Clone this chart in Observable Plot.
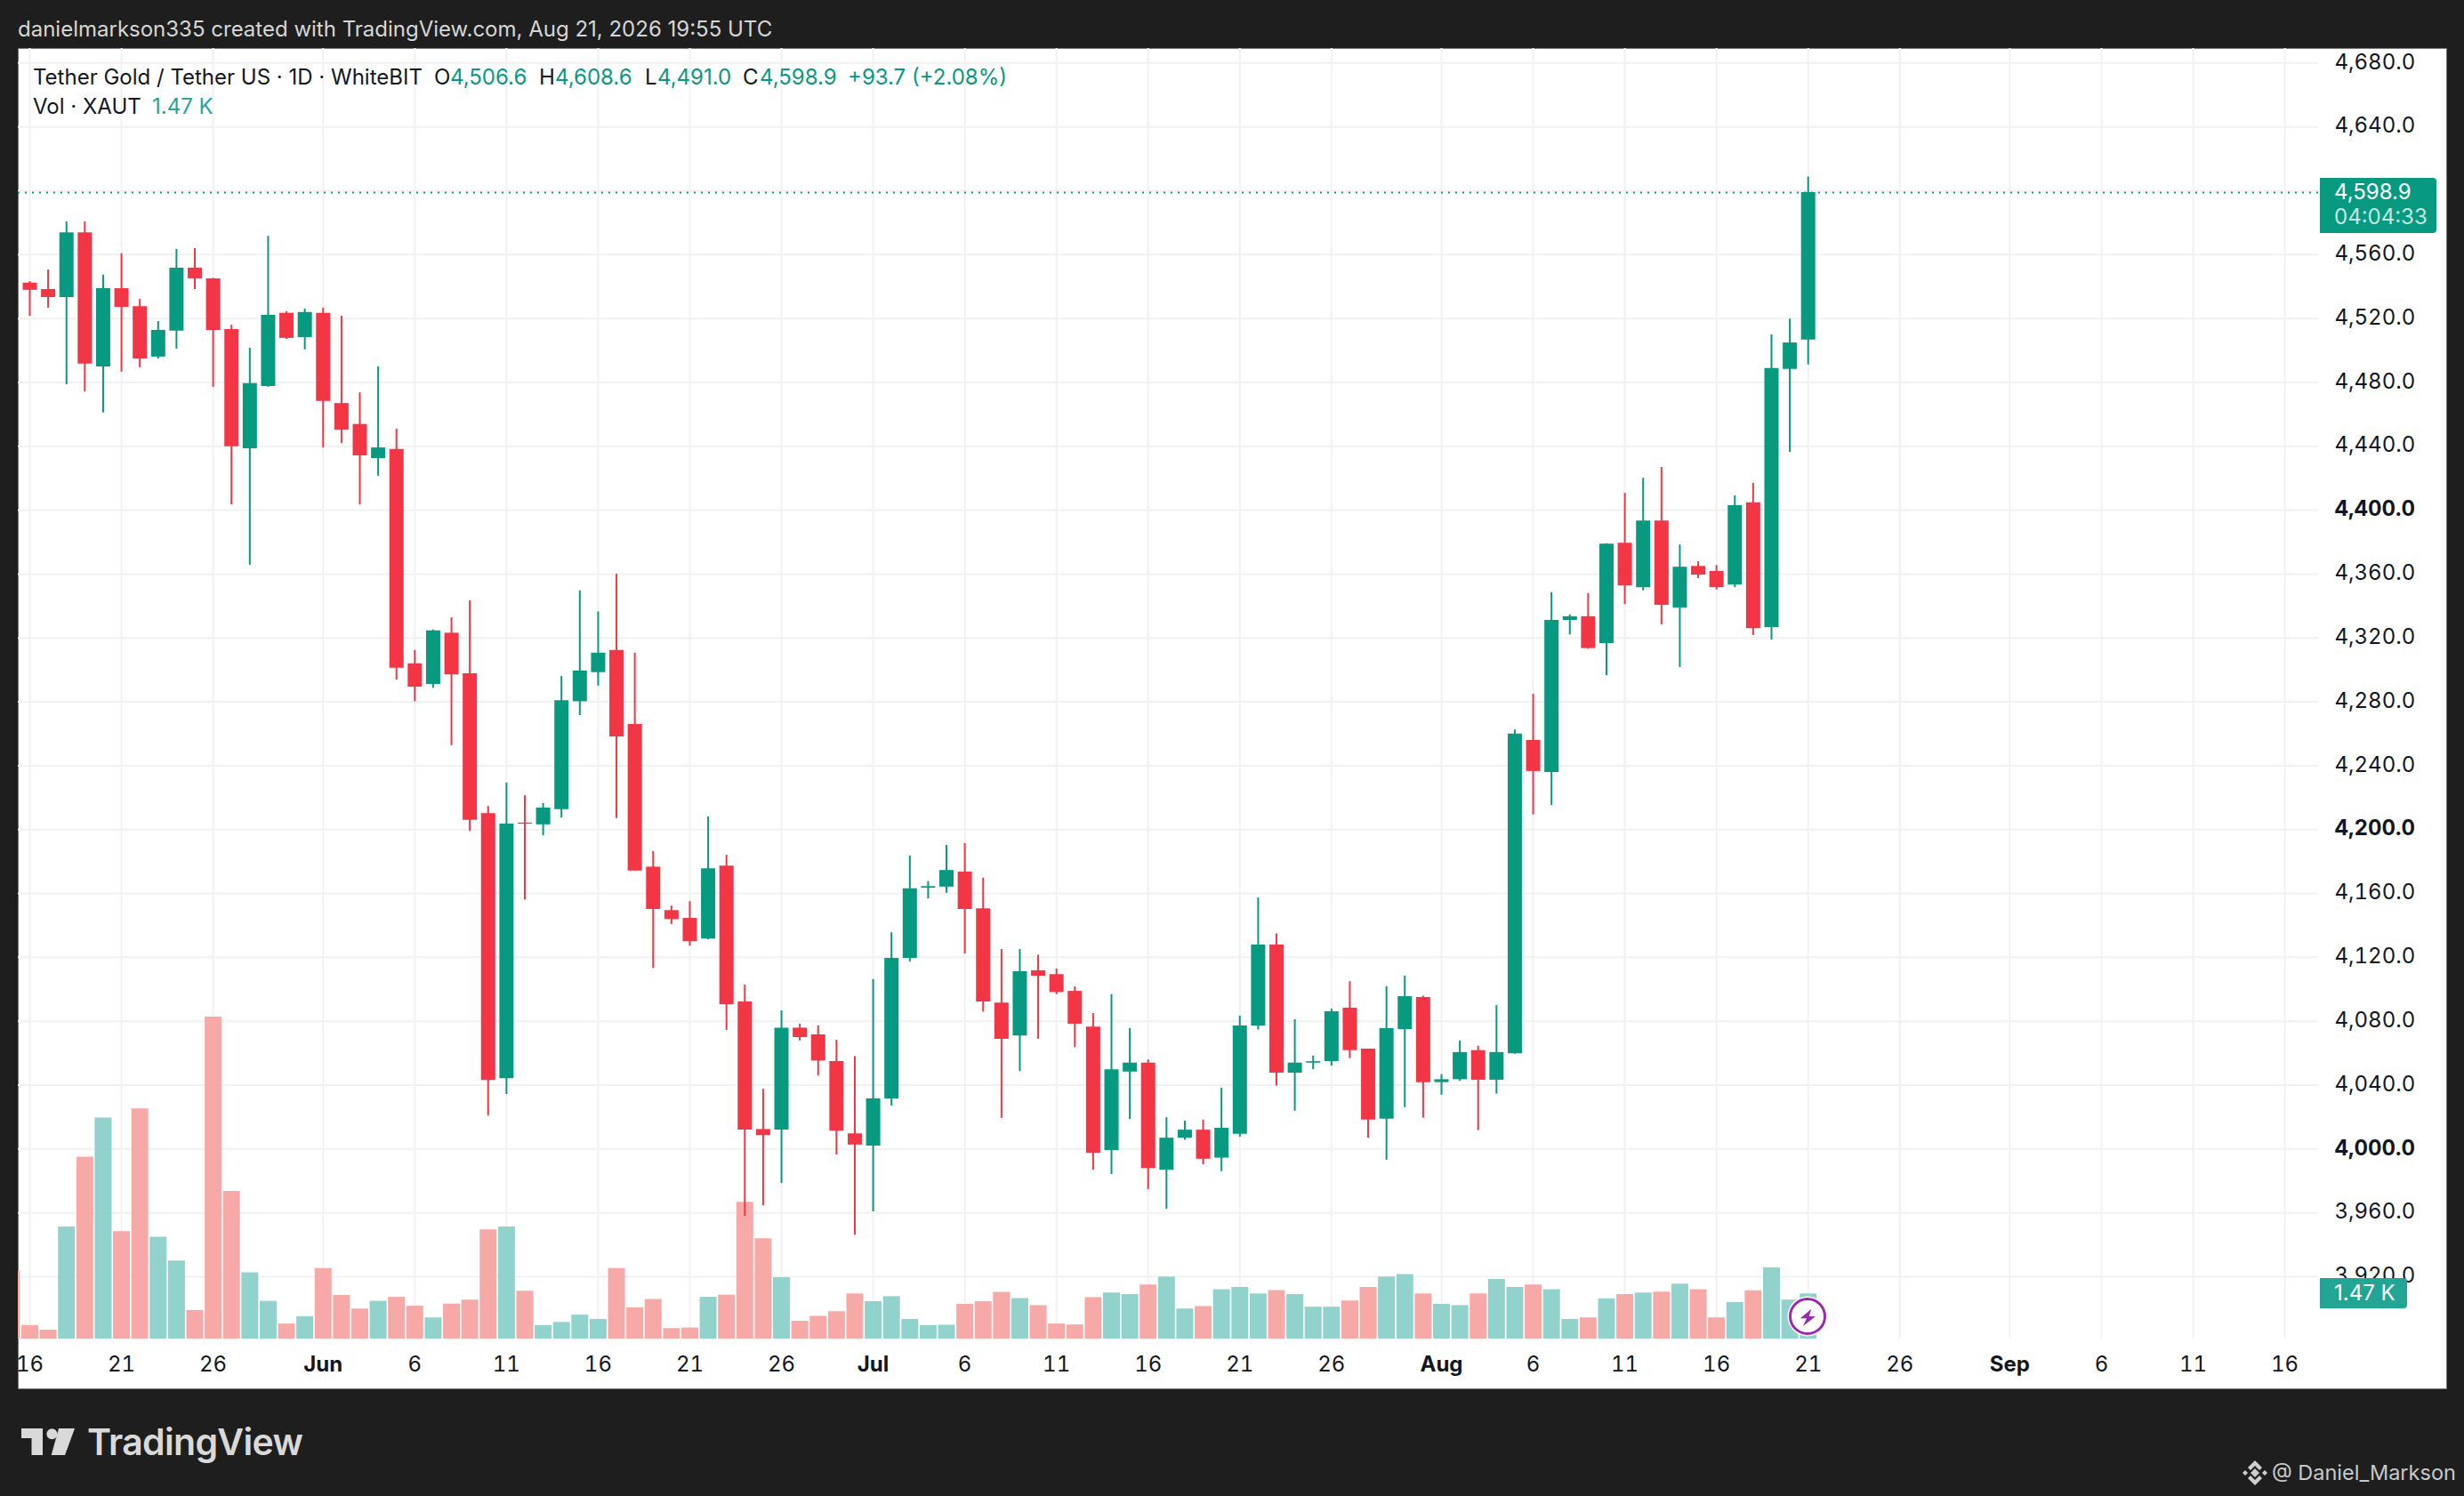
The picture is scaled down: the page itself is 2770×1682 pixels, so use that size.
<!DOCTYPE html>
<html>
<head>
<meta charset="utf-8">
<script src="https://cdn.jsdelivr.net/npm/d3@7"></script>
<script src="https://cdn.jsdelivr.net/npm/@observablehq/plot@0.6"></script>
<style>
html,body{margin:0;padding:0;background:#1e1e1e;}
#page{position:relative;width:2770px;height:1682px;background:#1e1e1e;overflow:hidden;font-family:Inter,"Liberation Sans",sans-serif;}
#pane{position:absolute;left:20px;top:54px;width:2729px;height:1506px;background:#fff;border:1px solid #7a7a7a;}
#page svg{position:absolute;left:0;top:0;}
.t{position:absolute;white-space:nowrap;line-height:1;font-size:24px;transform:translateY(-50%);}
.tag{position:absolute;color:#fff;font-size:24px;border-radius:0 4px 4px 0;}
</style>
</head>
<body>
<div id="page"><div id="pane"></div></div>
<script>
const firstDay = Date.UTC(2026, 4, 16);
const opens = [4542.2,4538.2,4533.2,4573.7,4489.7,4538.7,4527.5,4495.9,4512.1,4551.6,4544.9,4513.1,4438.5,4477.5,4523.3,4508.1,
4523.3,4466.8,4453.7,4432.3,4438,4303.8,4290.9,4323,4297.6,4210,4044,4204.1,4203,4212.5,4280.1,4298.3,4312.2,4265.8,4176.5,4149.3,4144.4,4131.5,4177.2,4092.1,4012.2,4011.9,4075.7,4071.5,4054.8,4009.5,
4001.8,4031.4,4119.3,4163.3,4164,4173.4,4150.4,4091.4,4070.8,4111.6,4109.2,4098.7,4076.4,3999,4048.2,4053.8,3986.7,4006.8,4011.8,3994.3,4009.3,4077,4127.7,4047.5,4053.8,4054.7,4088.2,4062.5,4018.7,4074.8,4094.8,
4041.6,4043.4,4061.6,4043.1,4059.7,4255.8,4235.8,4331,4333.3,4316.5,4379.3,4351.5,4393.3,4338.7,4364.8,4361.7,4353.2,4404.6,4326.5,4488.2,4506.6];
const highs = [4543.2,4550.4,4580.5,4580.5,4547.2,4560.6,4532,4518.1,4563.3,4563.8,4545.2,4515.8,4501.4,4571.5,4524.3,4526,
4526.5,4521.5,4473.5,4489.7,4450.7,4312.2,4325,4332.6,4343.3,4214.5,4229.2,4221.2,4216.3,4295.8,4349.5,4336.3,4359.9,4310.5,4186.3,4152.1,4154.9,4207.9,4183.9,4102.6,4037.4,4086.5,4078.2,4077.1,4068.1,4057.9,
4106.1,4135.4,4183.5,4167.5,4190.1,4191.2,4169.6,4124.9,4124.9,4121.4,4112.7,4101.5,4084.8,4096.7,4075.4,4055.8,4019.6,4017.4,4018.1,4038.1,4083.2,4157.2,4134.6,4081,4058.2,4087.6,4104.8,4062.5,4101.7,4108.3,4095.7,
4046.6,4067.6,4064.4,4089.8,4262.4,4284.7,4348.4,4334.4,4347.8,4379,4410.6,4420,4426.8,4378.2,4367.7,4365.4,4408.9,4416.8,4509.8,4519.7,4608.6];
const lows = [4521.5,4526.5,4478.5,4474,4460.9,4486.5,4489.2,4494.7,4500.9,4538.2,4477,4403.4,4365.6,4477,4507,4500.4,
4439,4441.7,4403.4,4421.3,4293.7,4280.1,4288.5,4252.6,4198.9,4020.6,4034.2,4155.9,4196.1,4207.3,4271.4,4289.9,4206.9,4174,4113,4140.6,4127,4131,4074.3,3957.8,3964.5,3978.4,4067.7,4045.7,3996.2,3946,
3960.6,4026.9,4117.2,4156.6,4160.1,4122.1,4085.8,4019.2,4048.5,4068.7,4096.7,4063.5,3986.8,3984,4018.5,3974.6,3962.3,4005.5,3990.2,3985.8,4007.4,4074.5,4039.4,4023.7,4049.7,4051.9,4056.6,4006.8,3993,4025.9,4019.3,
4033.7,4042.5,4011.5,4034.4,4059.4,4209.2,4215.1,4321.9,4313,4296.4,4341,4349.5,4328.2,4301.5,4357.2,4350.1,4351.5,4321.6,4318.8,4436.2,4491];
const closes = [4537.7,4533.2,4573.7,4491.5,4538.7,4527,4494.7,4512.6,4551.6,4544.9,4512.6,4439.7,4479.3,4522,4507.6,4523.8,
4468.1,4450.2,4434,4439,4301,4289.2,4324.4,4296.9,4205.8,4042.9,4203.4,4203.4,4213.5,4280.8,4299.3,4310.5,4258.1,4174.1,4150,4143.7,4129.8,4175.5,4090.4,4011.9,4008.4,4075.7,4069.8,4055.1,4011.2,4002.5,
4031.4,4119.3,4162.9,4164.3,4174.4,4150,4092.1,4068.7,4111,4108.2,4098,4078.2,3997.2,4049.6,4053.8,3987.8,4006.8,4011.8,3993.6,4013,4077,4127.7,4047.5,4053.8,4054.7,4086,4061.6,4018.1,4075.4,4095.4,4041.6,
4043.4,4060.4,4043.1,4060.4,4259.9,4236.4,4331,4333.3,4313.4,4378.8,4352.6,4393.3,4340.4,4364.3,4359.4,4351.5,4402.9,4325.9,4488.7,4504.7,4598.9];
// thousands of XAUT; the first value belongs to the day before the first candle (cut by the pane edge)
const volumes = [2.21,0.44,0.29,3.65,5.93,7.2,3.5,7.5,3.32,2.54,0.93,10.49,4.81,2.16,1.23,0.49,0.73,
2.3,1.42,0.98,1.23,1.36,1.07,0.69,1.14,1.27,3.56,3.65,1.56,0.44,0.54,0.78,0.64,2.3,1.02,1.29,0.34,0.36,1.36,1.43,4.46,3.27,2,0.58,0.74,0.89,1.47,
1.22,1.38,0.64,0.44,0.45,1.13,1.22,1.52,1.32,1.09,0.49,0.46,1.35,1.5,1.45,1.76,2.02,0.98,1.06,1.61,1.68,1.47,1.58,1.45,1.04,1.04,1.24,1.68,2.02,2.1,1.47,
1.13,1.09,1.47,1.94,1.68,1.76,1.61,0.64,0.69,1.31,1.45,1.5,1.53,1.79,1.61,0.69,1.19,1.57,2.32,1.27,1.47];
const priceGrid = [3920,3960,4000,4040,4080,4120,4160,4200,4240,4280,4320,4360,4400,4440,4480,4520,4560,4600,4640,4680];
const priceLabels = [3920,3960,4040,4080,4120,4160,4240,4280,4320,4360,4440,4480,4520,4560,4640,4680];
const priceLabelsBold = [4000,4200,4400];
const dayTicks = ["05-16","05-21","05-26","06-06","06-11","06-16","06-21","06-26","07-06","07-11","07-16","07-21","07-26","08-06","08-11","08-16","08-21","08-26","09-06","09-11","09-16"];
const monthTicks = ["06-01","07-01","08-01","09-01"];
const lastPrice = 4598.9, lastVolume = 1.47;

const DAY = 864e5;
const asDate = s => new Date("2026-" + s + "T00:00:00Z");
const candles = opens.map((o,i)=>({date:new Date(firstDay+i*DAY),open:o,high:highs[i],low:lows[i],close:closes[i]}));
const vols = volumes.map((v,i)=>({date:new Date(firstDay+(i-1)*DAY),v,up:i>0&&closes[i-1]>=opens[i-1]}));
const up = candles.filter(d=>d.close>=d.open), down = candles.filter(d=>d.close<d.open);

const GREEN="#089981", RED="#f23645", GREY="#131722", GRID="#f1f1f2";
const FONT='Inter,"Liberation Sans",sans-serif';
const base = {
  width:2770,height:1682,marginLeft:20,marginRight:164,marginTop:54,marginBottom:177,
  style:{background:"transparent",fontFamily:FONT,overflow:"visible"},
  x:{type:"utc",domain:[new Date(firstDay-0.631*DAY),new Date(firstDay+124.84*DAY)],axis:null}
};
const yPrice = {domain:[3881,4689.1],axis:null};
const page = document.getElementById("page");

const gridLayer = Plot.plot({...base,y:yPrice,marks:[
  Plot.ruleY(priceGrid,{stroke:GRID,strokeWidth:2}),
  Plot.ruleX([...dayTicks,...monthTicks].map(asDate),{stroke:GRID,strokeWidth:2})
]});
const volLayer = Plot.plot({...base,y:{domain:[0,42.06],axis:null},marks:[
  Plot.ruleX(vols.filter(d=>!d.up),{x:"date",y1:0,y2:"v",stroke:"#f7a9a7",strokeWidth:19,clip:true}),
  Plot.ruleX(vols.filter(d=>d.up),{x:"date",y1:0,y2:"v",stroke:"#92d2cc",strokeWidth:19,clip:true})
]});
const tf = d3.format(",.1f");
const priceLayer = Plot.plot({...base,y:yPrice,marks:[
  Plot.ruleY([lastPrice],{stroke:GREEN,strokeWidth:2,strokeDasharray:"2,6"}),
  Plot.ruleX(down,{x:"date",y1:"low",y2:"high",stroke:RED,strokeWidth:2}),
  Plot.ruleX(up,{x:"date",y1:"low",y2:"high",stroke:GREEN,strokeWidth:2}),
  Plot.ruleX(down,{x:"date",y1:"open",y2:"close",stroke:RED,strokeWidth:16}),
  Plot.ruleX(up,{x:"date",y1:"open",y2:"close",stroke:GREEN,strokeWidth:16}),
  Plot.axisY(priceLabels,{anchor:"right",tickSize:0,tickPadding:18,fontSize:24,dy:-1,tickFormat:tf,label:null,fill:GREY}),
  Plot.axisY(priceLabelsBold,{anchor:"right",tickSize:0,tickPadding:18,fontSize:24,dy:-1,fontWeight:700,tickFormat:tf,label:null,fill:GREY}),
  Plot.axisX(dayTicks.map(asDate),{anchor:"bottom",tickSize:0,tickPadding:19,fontSize:24,tickFormat:d=>String(d.getUTCDate()),label:null,fill:GREY}),
  Plot.axisX(monthTicks.map(asDate),{anchor:"bottom",tickSize:0,tickPadding:19,fontSize:24,fontWeight:700,tickFormat:d3.utcFormat("%b"),label:null,fill:GREY})
]});
page.append(gridLayer,volLayer,priceLayer);

function text(str,left,y,color,extra){
  const e=document.createElement("div");e.className="t";e.textContent=str;
  e.style.left=left+"px";e.style.top=y+"px";e.style.color=color;
  if(extra)Object.assign(e.style,extra);page.append(e);return e;
}
text("danielmarkson335 created with TradingView.com, Aug 21, 2026 19:55 UTC",20,33,"#d6d6d6");
const INK="#131722";
text("Tether Gold / Tether US · 1D · WhiteBIT",37,87,INK);
[["O",488,"4,506.6",506],["H",606,"4,608.6",624],["L",725,"4,491.0",739],["C",835,"4,598.9",854]].forEach(([a,x1,b,x2])=>{
  text(a,x1,87,INK);text(b,x2,87,GREEN);
});
text("+93.7 (+2.08%)",953,87,GREEN);
text("Vol · XAUT",37,120,INK);
text("1.47 K",171,120,"#26a69a");

// last price tag, placed through the price scale
const py = priceLayer.scale("y").apply(lastPrice);
const tag=document.createElement("div");tag.className="tag";
Object.assign(tag.style,{left:"2608px",top:(py-16)+"px",width:"131px",height:"62px",background:GREEN});
page.append(tag);
text("4,598.9",2624,py,"#ffffff");
text("04:04:33",2624,py+28,"#c4e6e1");

// volume tag, placed through the volume scale
const vy = volLayer.scale("y").apply(lastVolume);
const vtag=document.createElement("div");vtag.className="tag";
Object.assign(vtag.style,{left:"2608px",top:(vy-17)+"px",width:"98px",height:"34px",background:"#22a594"});
page.append(vtag);
text("1.47 K",2624,vy,"#ffffff");

// lightning badge over the last bar
const bx = priceLayer.scale("x").apply(new Date(firstDay+97*DAY));
const ns="http://www.w3.org/2000/svg";
function icon(x,y,w,h,html){
  const s=document.createElementNS(ns,"svg");
  s.setAttribute("width",w);s.setAttribute("height",h);s.setAttribute("viewBox",`0 0 ${w} ${h}`);
  s.style.left=x+"px";s.style.top=y+"px";s.innerHTML=html;page.append(s);return s;
}
icon(bx-24,1456,48,48,`<circle cx="24" cy="24" r="22.5" fill="#fff"/><circle cx="24" cy="24" r="19.5" fill="#fff" stroke="#9c27b0" stroke-width="3"/>
<polygon points="28.3,15.7 15.7,26.3 23,26.3 19,35 33,24 25.7,24" fill="#9c27b0"/>`);

// TradingView logo
icon(24,1606,60,30,`<polygon points="0,0 24,0 24,30 11.5,30 11.5,11 0,11" fill="#d9d9d9"/><circle cx="34.4" cy="6.3" r="6" fill="#d9d9d9"/><polygon points="42,0 60,0 49,30 33.7,30" fill="#d9d9d9"/>`);
text("TradingView",98,1621,"#d9d9d9",{fontSize:"41px",fontWeight:"600",letterSpacing:"-0.7px"});

// watermark
icon(2521,1642,28,28,`<g fill="#cfcfcf"><polygon points="14,9 19,14 14,19 9,14"/><polygon points="14,0 22,8 19,11 14,6 9,11 6,8"/><polygon points="14,28 22,20 19,17 14,22 9,17 6,20"/><polygon points="3,11 6,14 3,17 0,14"/><polygon points="25,11 28,14 25,17 22,14"/></g>`);
text("@ Daniel_Markson",2554,1656,"#c9c9c9",{fontSize:"23.5px"});
</script>
</body>
</html>
